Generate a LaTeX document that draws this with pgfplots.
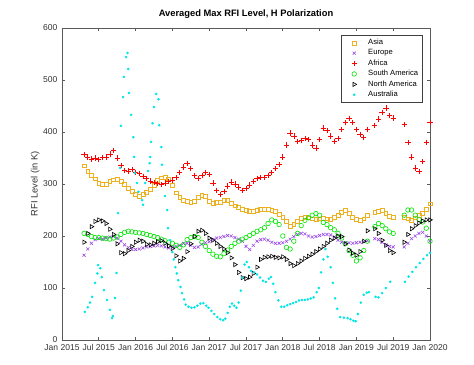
\documentclass[border=0pt]{standalone}
\usepackage{fontspec}
\setmainfont{Liberation Sans}
\usepackage{pgfplots}
\usepackage{pgfplotstable}
\pgfplotsset{compat=1.18}
\definecolor{asiac}{RGB}{237,177,32}
\definecolor{eurc}{RGB}{155,75,230}
\definecolor{afrc}{RGB}{255,0,0}
\definecolor{sac}{RGB}{0,230,0}
\definecolor{nac}{RGB}{0,0,0}
\definecolor{ausc}{RGB}{0,230,230}
\definecolor{axc}{RGB}{90,90,90}
\pgfplotsset{mylegend/.style={legend image code/.code={\path[draw=none,fill=none] (0pt,-2pt) rectangle (17pt,2pt); \path[##1, draw=none, fill=none] plot[only marks] coordinates {(8.5pt,0pt)};}}}

\pgfplotstableread{
x asia europe africa sa na
2015.30 335 163 357 205 188
2015.35 325 175 352 203 205
2015.40 316 186 348 199 218
2015.45 310 193 350 197 228
2015.50 302 195 347 197 231
2015.55 299 194 351 196 229
2015.60 300 196 352 195 224
2015.65 305 198 358 194 213
2015.70 308 199 364 196 203
2015.75 309 196 350 198 185
2015.80 306 190 335 203 168
2015.85 300 183 326 207 166
2015.90 292 178 325 209 172
2015.95 286 174 328 208 180
2016.00 281 174 322 207 188
2016.05 277 175 320 206 192
2016.10 280 177 315 205 190
2016.15 284 179 311 203 184
2016.20 289 180 306 201 183
2016.25 298 181 303 199 186
2016.30 307 182 301 197 189
2016.35 312 181 299 194 191
2016.40 313 179 302 191 186
2016.45 310 177 305 188 181
2016.50 297 178 308 186 176
2016.55 283 180 312 182 162
2016.60 275 182 322 178 152
2016.65 269 186 333 183 157
2016.70 266 186 340 193 170
2016.75 265 182 330 197 185
2016.80 267 178 316 199 199
2016.85 274 179 311 197 209
2016.90 279 184 316 188 211
2016.95 276 187 322 180 205
2017.00 267 189 318 172 196
2017.05 263 193 302 165 192
2017.10 264 196 288 161 186
2017.15 265 197 280 160 180
2017.20 268 199 285 166 175
2017.25 268 201 296 173 168
2017.30 263 200 304 180 158
2017.35 258 197 300 186 145
2017.40 255 194 294 190 130
2017.45 252 190 288 194 120
2017.50 249 180 291 197 118
2017.55 247 174 298 201 121
2017.60 247 182 305 205 128
2017.65 249 190 310 209 140
2017.70 251 193 312 212 155
2017.75 252 194 313 216 159
2017.80 252 192 316 224 160
2017.85 250 188 322 231 161
2017.90 247 186 330 228 159
2017.95 242 186 338 222 158
2018.00 236 187 352 200 160
2018.05 228 190 375 178 155
2018.10 218 194 398 175 147
2018.15 222 199 392 190 143
2018.20 229 203 382 205 147
2018.25 234 205 384 220 152
2018.30 236 204 388 230 157
2018.35 235 200 385 235 161
2018.40 233 198 375 240 165
2018.45 232 199 369 243 170
2018.50 233 201 385 240 175
2018.55 234 203 408 226 180
2018.60 233 203 403 222 186
2018.65 232 202 392 216 192
2018.70 236 198 382 212 196
2018.75 240 192 388 205 200
2018.80 245 188 405 196 199
2018.85 249 187 418 185 185
2018.90 243 187 426 172 173
2018.95 236 186 418 163 167
2019.00 232 187 405 152 163
2019.05 231 188 395 158 170
2019.10 233 189 390 172 190
2019.15 240 191 405 190 210
2019.25 245 195 412 218 214
2019.30 248 193 425 224 205
2019.35 249 188 438 220 192
2019.40 244 183 446 214 182
2019.45 238 180 432 208 172
2019.50 236 179 427 205 168
2019.65 236 179 414 240 188
2019.70 233 186 380 250 203
2019.75 231 195 352 250 214
2019.80 235 200 331 240 220
2019.85 240 205 324 232 225
2019.90 243 207 343 227 229
2019.95 252 200 380 215 231
2020.00 262 190 418 190 231
}\maindata

\pgfplotstableread{
x aus
2015.31 54
2015.35 63
2015.38 72
2015.41 83
2015.45 110
2015.48 128
2015.49 144
2015.52 138
2015.54 121
2015.57 96
2015.61 77
2015.65 58
2015.68 42
2015.69 46
2015.72 81
2015.74 129
2015.76 244
2015.79 331
2015.80 412
2015.83 467
2015.84 506
2015.87 544
2015.89 552
2015.90 521
2015.91 475
2015.94 433
2015.97 390
2015.98 352
2015.99 321
2016.02 302
2016.04 285
2016.09 269
2016.10 260
2016.13 302
2016.17 325
2016.19 340
2016.20 352
2016.21 381
2016.23 417
2016.25 448
2016.28 473
2016.31 463
2016.32 413
2016.35 371
2016.36 337
2016.40 277
2016.43 250
2016.44 215
2016.47 192
2016.50 169
2016.52 155
2016.54 140
2016.56 128
2016.58 115
2016.61 102
2016.63 90
2016.66 78
2016.68 68
2016.72 64
2016.76 62
2016.80 63
2016.84 66
2016.88 70
2016.92 71
2016.96 66
2016.99 62
2017.03 56
2017.07 50
2017.11 44
2017.15 40
2017.19 38
2017.22 41
2017.25 52
2017.28 64
2017.31 70
2017.34 66
2017.37 62
2017.40 72
2017.43 95
2017.45 120
2017.48 145
2017.51 150
2017.54 140
2017.57 133
2017.61 130
2017.65 126
2017.69 120
2017.73 114
2017.77 112
2017.81 118
2017.84 121
2017.87 108
2017.90 92
2017.94 76
2017.98 64
2018.02 64
2018.06 67
2018.10 69
2018.14 71
2018.18 73
2018.22 76
2018.26 77
2018.30 77
2018.34 78
2018.38 80
2018.42 82
2018.46 92
2018.49 100
2018.52 130
2018.55 155
2018.58 175
2018.61 160
2018.65 140
2018.68 110
2018.71 80
2018.74 60
2018.78 44
2018.83 43
2018.88 42
2018.92 40
2018.96 37
2018.99 36
2019.02 50
2019.06 72
2019.10 87
2019.14 91
2019.17 92
2019.26 83
2019.30 82
2019.35 90
2019.40 100
2019.46 112
2019.66 112
2019.71 122
2019.76 131
2019.81 140
2019.86 148
2019.91 156
2019.96 163
2020.00 168
}\ausdata

\begin{document}
\begin{tikzpicture}
\path[use as bounding box] (-46.5pt,-18pt) rectangle (309pt,255pt);
\begin{axis}[
  at={(0,0)}, anchor=south west,
  scale only axis, width=276pt, height=234pt,
  xmin=2015, xmax=2020, ymin=0, ymax=600,
  xtick={2015,2015.5,2016,2016.5,2017,2017.5,2018,2018.5,2019,2019.5,2020},
  xticklabels={Jan 2015,Jul 2015,Jan 2016,Jul 2016,Jan 2017,Jul 2017,Jan 2018,Jul 2018,Jan 2019,Jul 2019,Jan 2020},
  ytick={0,100,200,300,400,500,600},
  tick align=inside,
  major tick length=2.6pt,
  axis line style={axc, line width=0.45pt},
  tick style={axc, line width=0.45pt},
  tick label style={font=\fontsize{6.4}{7}\selectfont, text=black!80},
  /pgf/number format/assume math mode=true,
  ylabel={RFI Level (in K)},
  every axis y label/.style={at={(axis description cs:-0.073,0.5)}, rotate=90, anchor=center, font=\fontsize{7}{8}\selectfont, text=black!80},
  title={Averaged Max RFI Level, H Polarization},
  title style={at={(axis description cs:0.5,1)}, anchor=base, yshift=2.7pt, font=\bfseries\fontsize{7}{8}\selectfont},
  legend style={at={(axis description cs:0.981,0.978)}, anchor=north east,
    font=\fontsize{5.7}{6.5}\selectfont, draw=black!75, line width=0.4pt,
    inner xsep=1.5pt, inner ysep=1pt, row sep=-1.8pt},
  legend cell align=left,
]
\addplot[only marks, mylegend, mark=square, mark size=1.45pt, color=asiac, mark options={asiac, line width=0.45pt}] table[x=x,y=asia]{\maindata};
\addlegendentry{Asia}
\addplot[only marks, mylegend, mark=x, mark size=1.6pt, color=eurc, mark options={eurc, line width=0.45pt}] table[x=x,y=europe]{\maindata};
\addlegendentry{Europe}
\addplot[only marks, mylegend, mark=+, mark size=2pt, color=afrc, mark options={afrc, line width=0.5pt}] table[x=x,y=africa]{\maindata};
\addlegendentry{Africa}
\addplot[only marks, mylegend, mark=o, mark size=1.7pt, color=sac, mark options={sac, line width=0.45pt}] table[x=x,y=sa]{\maindata};
\addlegendentry{South America}
\addplot[only marks, mylegend, mark=triangle, mark size=1.8pt, color=nac, mark options={nac, rotate=-90, line width=0.45pt}] table[x=x,y=na]{\maindata};
\addlegendentry{North America}
\addplot[only marks, mylegend, mark=*, mark size=0.75pt, color=ausc, mark options={ausc, fill=ausc}] table[x=x,y=aus]{\ausdata};
\addlegendentry{Australia}
\end{axis}
\end{tikzpicture}
\end{document}
